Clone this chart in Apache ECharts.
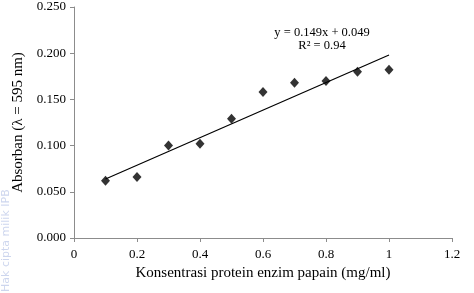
<!DOCTYPE html>
<html>
<head>
<meta charset="utf-8">
<script src="https://cdn.jsdelivr.net/npm/echarts@6/dist/echarts.min.js"></script>
<style>
  html, body { margin: 0; padding: 0; background: #fff; }
  #chart { width: 474px; height: 293px; }
</style>
</head>
<body>
<div id="chart"></div>
<script>
// concentration (mg/ml) and absorbance readings
const konsentrasi = [0.1, 0.2, 0.3, 0.4, 0.5, 0.6, 0.7, 0.8, 0.9, 1.0];
const absorban = [0.062, 0.066, 0.100, 0.102, 0.129, 0.158, 0.168, 0.170, 0.180, 0.182];
// linear trendline y = 0.149x + 0.049 drawn between the first and last x
const trendX = [0.1, 1.0];
const trendY = [0.0639, 0.198];
const persamaan = ['y = 0.149x + 0.049', 'R² = 0.94'];

const serif = '"Liberation Serif", "DejaVu Serif", serif';

const chart = echarts.init(document.getElementById('chart'));
chart.setOption({
    animation: false,
    textStyle: { fontFamily: serif },
    grid: { left: 74, right: 22, top: 7, bottom: 55 },
    xAxis: {
        type: 'value',
        min: 0, max: 1.2, interval: 0.2,
        name: 'Konsentrasi protein enzim papain (mg/ml)',
        nameLocation: 'middle',
        nameGap: 27,
        nameTextStyle: { fontFamily: serif, fontSize: 15, color: '#000' },
        axisLine: { lineStyle: { color: '#8c8c8c' } },
        axisTick: { show: true, length: 4, lineStyle: { color: '#8c8c8c' } },
        axisLabel: { fontFamily: serif, fontSize: 13, color: '#000', margin: 10 },
        splitLine: { show: false }
    },
    yAxis: {
        type: 'value',
        min: 0, max: 0.25, interval: 0.05,
        name: 'Absorban (λ = 595 nm)',
        nameLocation: 'middle',
        nameGap: 40,
        nameTextStyle: { fontFamily: serif, fontSize: 15, color: '#000' },
        axisLine: { show: true, lineStyle: { color: '#8c8c8c' } },
        axisTick: { show: true, length: 4, lineStyle: { color: '#8c8c8c' } },
        axisLabel: {
            fontFamily: serif, fontSize: 13, color: '#000', margin: 8,
            formatter: v => v.toFixed(3)
        },
        splitLine: { show: false }
    },
    series: [
        {
            type: 'line',
            data: trendX.map((x, i) => [x, trendY[i]]),
            symbol: 'none',
            lineStyle: { color: '#000', width: 1.2 },
            z: 2
        },
        {
            type: 'scatter',
            data: konsentrasi.map((x, i) => [x, absorban[i]]),
            symbol: 'diamond',
            symbolSize: [9, 10],
            itemStyle: { color: '#000' },
            z: 3
        }
    ],
    graphic: [
        {
            type: 'text',
            x: 322, y: 26,
            style: {
                text: persamaan.join('\n'),
                align: 'center',
                verticalAlign: 'top',
                font: '12.5px ' + serif,
                fill: '#000',
                lineHeight: 13
            }
        },
        {
            type: 'text',
            x: 1, y: 292,
            rotation: Math.PI / 2,
            style: {
                text: 'Hak cipta milik IPB',
                font: '11px "DejaVu Sans", sans-serif',
                fill: 'rgba(90,120,200,0.3)'
            }
        }
    ]
});
</script>
</body>
</html>
